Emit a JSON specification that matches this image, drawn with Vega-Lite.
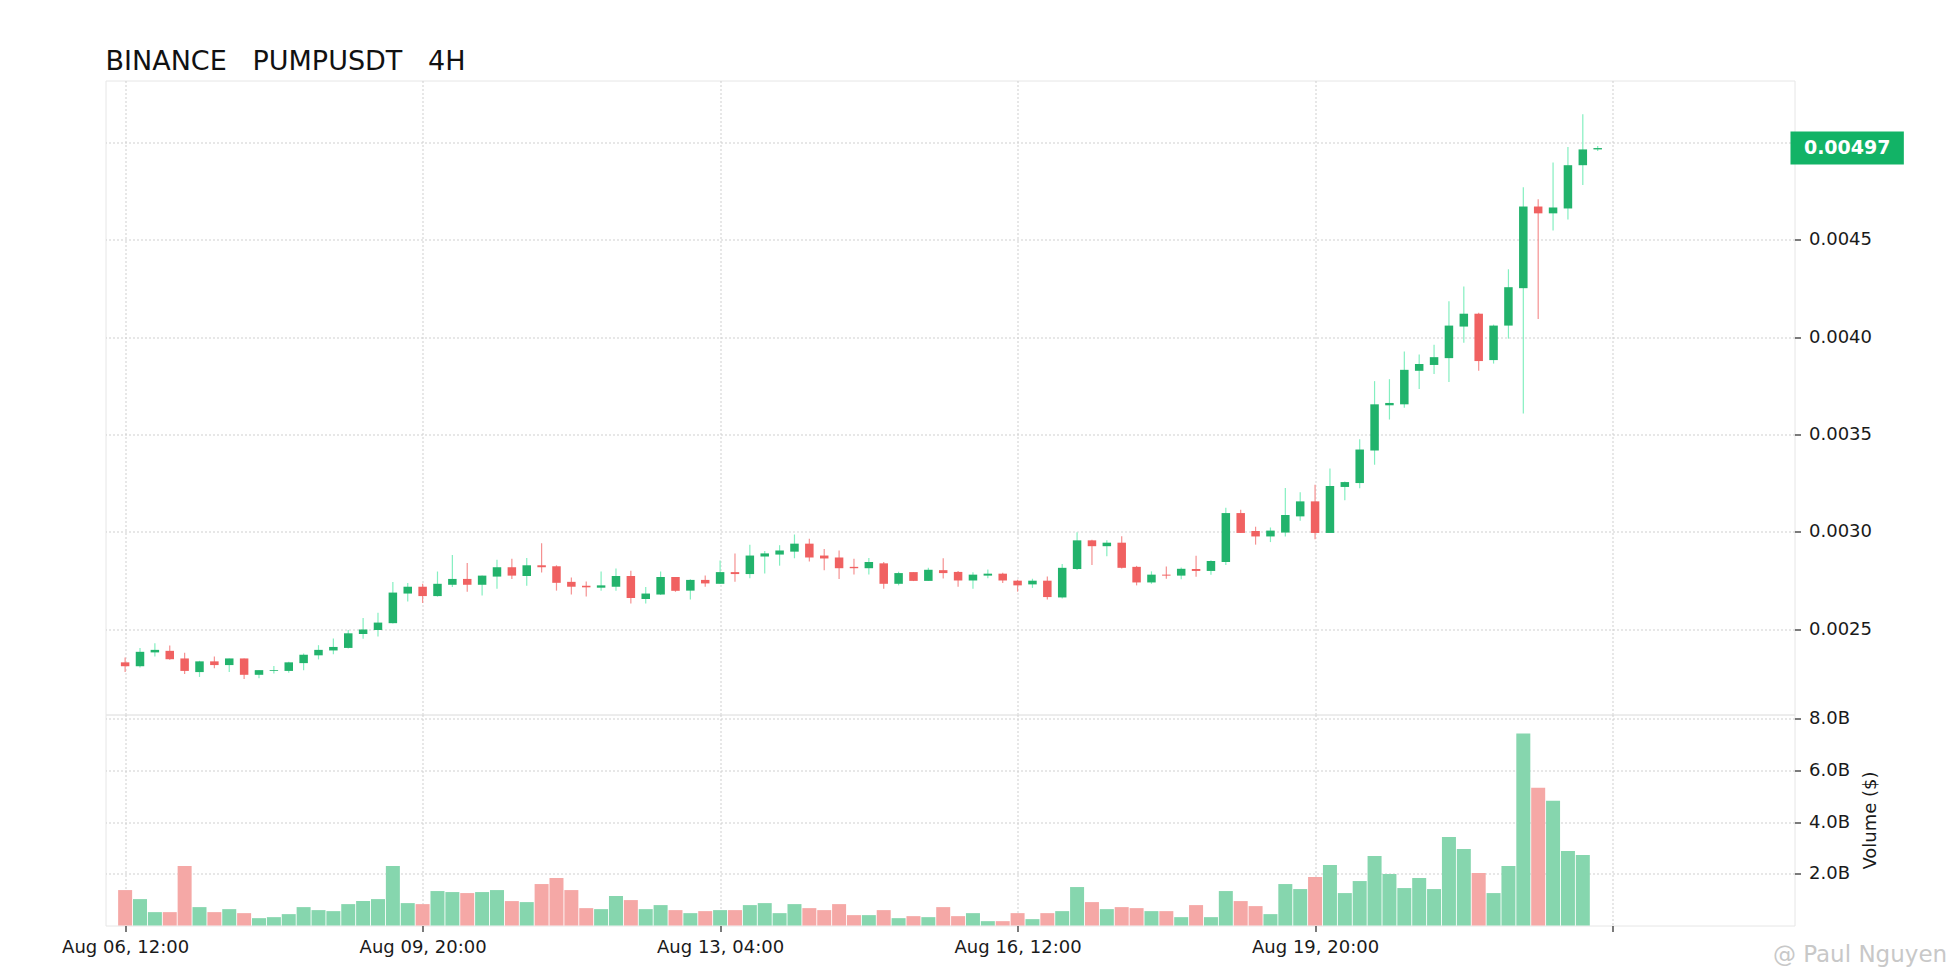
{
"$schema": "https://vega.github.io/schema/vega-lite/v6.json",
"autosize": {"type": "pad"},
"padding": {"left": 60.5, "top": 47.5, "right": 5, "bottom": 5},
"background": "white",
"title": {"text": "BINANCE\u00a0\u00a0\u00a0PUMPUSDT\u00a0\u00a0\u00a04H", "anchor": "start", "frame": "group", "fontSize": 27, "fontWeight": "normal", "color": "#111111", "baseline": "alphabetic", "offset": -16.5},
"datasets": {"ohlc": [
{"t":"2025-08-06T12:00Z","o":0.002331,"h":0.002356,"l":0.002281,"c":0.002311,"v":1.370},
{"t":"2025-08-06T16:00Z","o":0.002311,"h":0.002405,"l":0.002304,"c":0.002385,"v":1.021},
{"t":"2025-08-06T20:00Z","o":0.002382,"h":0.002429,"l":0.002361,"c":0.002395,"v":0.517},
{"t":"2025-08-07T00:00Z","o":0.002390,"h":0.002417,"l":0.002344,"c":0.002347,"v":0.517},
{"t":"2025-08-07T04:00Z","o":0.002351,"h":0.002380,"l":0.002271,"c":0.002287,"v":2.301},
{"t":"2025-08-07T08:00Z","o":0.002281,"h":0.002339,"l":0.002256,"c":0.002336,"v":0.711},
{"t":"2025-08-07T12:00Z","o":0.002336,"h":0.002361,"l":0.002301,"c":0.002317,"v":0.517},
{"t":"2025-08-07T16:00Z","o":0.002317,"h":0.002351,"l":0.002281,"c":0.002351,"v":0.633},
{"t":"2025-08-07T20:00Z","o":0.002351,"h":0.002351,"l":0.002246,"c":0.002267,"v":0.478},
{"t":"2025-08-08T00:00Z","o":0.002267,"h":0.002291,"l":0.002249,"c":0.002291,"v":0.284},
{"t":"2025-08-08T04:00Z","o":0.002287,"h":0.002312,"l":0.002274,"c":0.002291,"v":0.323},
{"t":"2025-08-08T08:00Z","o":0.002287,"h":0.002334,"l":0.002277,"c":0.002331,"v":0.440},
{"t":"2025-08-08T12:00Z","o":0.002327,"h":0.002377,"l":0.002291,"c":0.002370,"v":0.711},
{"t":"2025-08-08T16:00Z","o":0.002367,"h":0.002419,"l":0.002346,"c":0.002395,"v":0.595},
{"t":"2025-08-08T20:00Z","o":0.002392,"h":0.002453,"l":0.002372,"c":0.002410,"v":0.556},
{"t":"2025-08-09T00:00Z","o":0.002405,"h":0.002497,"l":0.002402,"c":0.002480,"v":0.827},
{"t":"2025-08-09T04:00Z","o":0.002477,"h":0.002558,"l":0.002452,"c":0.002500,"v":0.944},
{"t":"2025-08-09T08:00Z","o":0.002497,"h":0.002585,"l":0.002463,"c":0.002535,"v":1.021},
{"t":"2025-08-09T12:00Z","o":0.002532,"h":0.002743,"l":0.002530,"c":0.002689,"v":2.301},
{"t":"2025-08-09T16:00Z","o":0.002684,"h":0.002738,"l":0.002643,"c":0.002719,"v":0.866},
{"t":"2025-08-09T20:00Z","o":0.002719,"h":0.002734,"l":0.002635,"c":0.002671,"v":0.827},
{"t":"2025-08-10T00:00Z","o":0.002671,"h":0.002797,"l":0.002668,"c":0.002734,"v":1.332},
{"t":"2025-08-10T04:00Z","o":0.002729,"h":0.002882,"l":0.002718,"c":0.002759,"v":1.293},
{"t":"2025-08-10T08:00Z","o":0.002759,"h":0.002841,"l":0.002693,"c":0.002729,"v":1.254},
{"t":"2025-08-10T12:00Z","o":0.002729,"h":0.002777,"l":0.002674,"c":0.002776,"v":1.293},
{"t":"2025-08-10T16:00Z","o":0.002771,"h":0.002857,"l":0.002709,"c":0.002819,"v":1.370},
{"t":"2025-08-10T20:00Z","o":0.002819,"h":0.002862,"l":0.002759,"c":0.002776,"v":0.944},
{"t":"2025-08-11T00:00Z","o":0.002774,"h":0.002867,"l":0.002724,"c":0.002829,"v":0.905},
{"t":"2025-08-11T04:00Z","o":0.002829,"h":0.002942,"l":0.002792,"c":0.002819,"v":1.603},
{"t":"2025-08-11T08:00Z","o":0.002824,"h":0.002829,"l":0.002699,"c":0.002739,"v":1.836},
{"t":"2025-08-11T12:00Z","o":0.002744,"h":0.002766,"l":0.002679,"c":0.002719,"v":1.370},
{"t":"2025-08-11T16:00Z","o":0.002724,"h":0.002746,"l":0.002669,"c":0.002716,"v":0.672},
{"t":"2025-08-11T20:00Z","o":0.002714,"h":0.002797,"l":0.002698,"c":0.002726,"v":0.633},
{"t":"2025-08-12T00:00Z","o":0.002719,"h":0.002812,"l":0.002698,"c":0.002774,"v":1.138},
{"t":"2025-08-12T04:00Z","o":0.002774,"h":0.002801,"l":0.002633,"c":0.002661,"v":0.983},
{"t":"2025-08-12T08:00Z","o":0.002656,"h":0.002718,"l":0.002633,"c":0.002684,"v":0.633},
{"t":"2025-08-12T12:00Z","o":0.002679,"h":0.002797,"l":0.002676,"c":0.002769,"v":0.789},
{"t":"2025-08-12T16:00Z","o":0.002769,"h":0.002769,"l":0.002693,"c":0.002698,"v":0.595},
{"t":"2025-08-12T20:00Z","o":0.002699,"h":0.002758,"l":0.002653,"c":0.002754,"v":0.478},
{"t":"2025-08-13T00:00Z","o":0.002754,"h":0.002776,"l":0.002719,"c":0.002736,"v":0.556},
{"t":"2025-08-13T04:00Z","o":0.002734,"h":0.002854,"l":0.002734,"c":0.002794,"v":0.595},
{"t":"2025-08-13T08:00Z","o":0.002794,"h":0.002890,"l":0.002744,"c":0.002784,"v":0.595},
{"t":"2025-08-13T12:00Z","o":0.002784,"h":0.002935,"l":0.002762,"c":0.002879,"v":0.789},
{"t":"2025-08-13T16:00Z","o":0.002874,"h":0.002902,"l":0.002787,"c":0.002890,"v":0.866},
{"t":"2025-08-13T20:00Z","o":0.002884,"h":0.002932,"l":0.002827,"c":0.002905,"v":0.478},
{"t":"2025-08-14T00:00Z","o":0.002899,"h":0.002987,"l":0.002865,"c":0.002940,"v":0.827},
{"t":"2025-08-14T04:00Z","o":0.002940,"h":0.002965,"l":0.002849,"c":0.002869,"v":0.672},
{"t":"2025-08-14T08:00Z","o":0.002879,"h":0.002912,"l":0.002804,"c":0.002864,"v":0.595},
{"t":"2025-08-14T12:00Z","o":0.002869,"h":0.002905,"l":0.002759,"c":0.002814,"v":0.827},
{"t":"2025-08-14T16:00Z","o":0.002821,"h":0.002862,"l":0.002782,"c":0.002814,"v":0.401},
{"t":"2025-08-14T20:00Z","o":0.002814,"h":0.002867,"l":0.002782,"c":0.002846,"v":0.401},
{"t":"2025-08-15T00:00Z","o":0.002839,"h":0.002846,"l":0.002709,"c":0.002734,"v":0.595},
{"t":"2025-08-15T04:00Z","o":0.002734,"h":0.002796,"l":0.002726,"c":0.002789,"v":0.284},
{"t":"2025-08-15T08:00Z","o":0.002794,"h":0.002794,"l":0.002748,"c":0.002749,"v":0.362},
{"t":"2025-08-15T12:00Z","o":0.002749,"h":0.002817,"l":0.002748,"c":0.002806,"v":0.323},
{"t":"2025-08-15T16:00Z","o":0.002804,"h":0.002865,"l":0.002761,"c":0.002789,"v":0.711},
{"t":"2025-08-15T20:00Z","o":0.002795,"h":0.002800,"l":0.002719,"c":0.002751,"v":0.362},
{"t":"2025-08-16T00:00Z","o":0.002751,"h":0.002793,"l":0.002708,"c":0.002781,"v":0.478},
{"t":"2025-08-16T04:00Z","o":0.002776,"h":0.002808,"l":0.002763,"c":0.002786,"v":0.168},
{"t":"2025-08-16T08:00Z","o":0.002786,"h":0.002791,"l":0.002738,"c":0.002751,"v":0.168},
{"t":"2025-08-16T12:00Z","o":0.002750,"h":0.002755,"l":0.002694,"c":0.002726,"v":0.478},
{"t":"2025-08-16T16:00Z","o":0.002731,"h":0.002760,"l":0.002713,"c":0.002750,"v":0.246},
{"t":"2025-08-16T20:00Z","o":0.002750,"h":0.002771,"l":0.002654,"c":0.002666,"v":0.478},
{"t":"2025-08-17T00:00Z","o":0.002664,"h":0.002835,"l":0.002659,"c":0.002816,"v":0.556},
{"t":"2025-08-17T04:00Z","o":0.002810,"h":0.002998,"l":0.002805,"c":0.002957,"v":1.487},
{"t":"2025-08-17T08:00Z","o":0.002957,"h":0.002960,"l":0.002830,"c":0.002927,"v":0.905},
{"t":"2025-08-17T12:00Z","o":0.002927,"h":0.002958,"l":0.002875,"c":0.002945,"v":0.633},
{"t":"2025-08-17T16:00Z","o":0.002945,"h":0.002978,"l":0.002813,"c":0.002816,"v":0.711},
{"t":"2025-08-17T20:00Z","o":0.002821,"h":0.002826,"l":0.002726,"c":0.002741,"v":0.672},
{"t":"2025-08-18T00:00Z","o":0.002741,"h":0.002798,"l":0.002734,"c":0.002781,"v":0.556},
{"t":"2025-08-18T04:00Z","o":0.002781,"h":0.002823,"l":0.002760,"c":0.002776,"v":0.556},
{"t":"2025-08-18T08:00Z","o":0.002776,"h":0.002818,"l":0.002758,"c":0.002811,"v":0.323},
{"t":"2025-08-18T12:00Z","o":0.002810,"h":0.002878,"l":0.002770,"c":0.002800,"v":0.789},
{"t":"2025-08-18T16:00Z","o":0.002800,"h":0.002855,"l":0.002781,"c":0.002851,"v":0.323},
{"t":"2025-08-18T20:00Z","o":0.002846,"h":0.003124,"l":0.002830,"c":0.003097,"v":1.332},
{"t":"2025-08-19T00:00Z","o":0.003097,"h":0.003114,"l":0.002995,"c":0.002995,"v":0.944},
{"t":"2025-08-19T04:00Z","o":0.003005,"h":0.003027,"l":0.002935,"c":0.002977,"v":0.750},
{"t":"2025-08-19T08:00Z","o":0.002977,"h":0.003023,"l":0.002948,"c":0.003007,"v":0.440},
{"t":"2025-08-19T12:00Z","o":0.002997,"h":0.003225,"l":0.002977,"c":0.003087,"v":1.603},
{"t":"2025-08-19T16:00Z","o":0.003080,"h":0.003204,"l":0.003057,"c":0.003157,"v":1.409},
{"t":"2025-08-19T20:00Z","o":0.003157,"h":0.003242,"l":0.002962,"c":0.002995,"v":1.875},
{"t":"2025-08-20T00:00Z","o":0.002995,"h":0.003326,"l":0.002995,"c":0.003236,"v":2.340},
{"t":"2025-08-20T04:00Z","o":0.003231,"h":0.003259,"l":0.003163,"c":0.003256,"v":1.254},
{"t":"2025-08-20T08:00Z","o":0.003251,"h":0.003476,"l":0.003224,"c":0.003423,"v":1.719},
{"t":"2025-08-20T12:00Z","o":0.003418,"h":0.003774,"l":0.003345,"c":0.003655,"v":2.689},
{"t":"2025-08-20T16:00Z","o":0.003650,"h":0.003784,"l":0.003577,"c":0.003662,"v":1.991},
{"t":"2025-08-20T20:00Z","o":0.003655,"h":0.003926,"l":0.003638,"c":0.003832,"v":1.448},
{"t":"2025-08-21T00:00Z","o":0.003827,"h":0.003911,"l":0.003734,"c":0.003862,"v":1.836},
{"t":"2025-08-21T04:00Z","o":0.003857,"h":0.003961,"l":0.003810,"c":0.003897,"v":1.409},
{"t":"2025-08-21T08:00Z","o":0.003892,"h":0.004184,"l":0.003769,"c":0.004059,"v":3.426},
{"t":"2025-08-21T12:00Z","o":0.004054,"h":0.004259,"l":0.003971,"c":0.004120,"v":2.961},
{"t":"2025-08-21T16:00Z","o":0.004120,"h":0.004125,"l":0.003827,"c":0.003877,"v":2.030},
{"t":"2025-08-21T20:00Z","o":0.003882,"h":0.004064,"l":0.003864,"c":0.004059,"v":1.254},
{"t":"2025-08-22T00:00Z","o":0.004059,"h":0.004348,"l":0.003992,"c":0.004256,"v":2.301},
{"t":"2025-08-22T04:00Z","o":0.004251,"h":0.004769,"l":0.003608,"c":0.004670,"v":7.421},
{"t":"2025-08-22T08:00Z","o":0.004670,"h":0.004707,"l":0.004093,"c":0.004635,"v":5.326},
{"t":"2025-08-22T12:00Z","o":0.004635,"h":0.004896,"l":0.004547,"c":0.004665,"v":4.822},
{"t":"2025-08-22T16:00Z","o":0.004660,"h":0.004976,"l":0.004603,"c":0.004882,"v":2.883},
{"t":"2025-08-22T20:00Z","o":0.004882,"h":0.005143,"l":0.004780,"c":0.004963,"v":2.728},
{"t":"2025-08-23T00:00Z","o":0.004963,"h":0.004981,"l":0.004955,"c":0.004970,"v":0}
]},
"spacing": 0,
"bounds": "flush",
"vconcat": [
{
"width": 1689, "height": 634,
"layer": [
{"data": {"name": "ohlc"},
 "mark": {"type": "rule", "strokeWidth": 1.2},
 "encoding": {
  "x": {"field": "t", "type": "temporal", "title": null,
        "scale": {"type": "utc", "domain": [{"year":2025,"month":8,"date":6,"hours":8,"minutes":4,"utc":true},{"year":2025,"month":8,"date":25,"hours":3,"minutes":35,"utc":true}]},
        "axis": {"values": [{"year":2025,"month":8,"date":6,"hours":12,"utc":true},{"year":2025,"month":8,"date":9,"hours":20,"utc":true},{"year":2025,"month":8,"date":13,"hours":4,"utc":true},{"year":2025,"month":8,"date":16,"hours":12,"utc":true},{"year":2025,"month":8,"date":19,"hours":20,"utc":true},{"year":2025,"month":8,"date":23,"hours":4,"utc":true}],
                 "labels": false, "ticks": false, "domain": false, "grid": true}},
  "y": {"field": "l", "type": "quantitative", "title": null,
        "scale": {"domain": [0.002089, 0.005291], "zero": false, "nice": false},
        "axis": {"orient": "right", "values": [0.0025, 0.003, 0.0035, 0.004, 0.0045, 0.005], "labelExpr": "datum.value > 0.00499 ? '' : format(datum.value, '.4f')", "labelOverlap": false}},
  "y2": {"field": "h"},
  "color": {"condition": {"test": "datum.c >= datum.o", "value": "#84efc0"}, "value": "#f59191"}
 }},
{"data": {"name": "ohlc"},
 "mark": {"type": "bar", "size": 8.5},
 "encoding": {
  "x": {"field": "t", "type": "temporal"},
  "y": {"field": "o", "type": "quantitative"},
  "y2": {"field": "c"},
  "color": {"condition": {"test": "datum.c >= datum.o", "value": "#22b36c"}, "value": "#f06161"}
 }},
{"data": {"values": [{"last": 0.00497}]},
 "mark": {"type": "bar", "orient": "horizontal", "size": 33, "color": "#12b366"},
 "encoding": {
  "x": {"datum": {"year":2025,"month":8,"date":25,"hours":3,"minutes":51,"utc":true}, "type": "temporal"},
  "x2": {"datum": {"year":2025,"month":8,"date":26,"hours":10,"minutes":20,"utc":true}},
  "y": {"field": "last", "type": "quantitative"}
 }},
{"data": {"values": [{"last": 0.00497}]},
 "mark": {"type": "text", "color": "#ffffff", "fontWeight": "bold", "fontSize": 19, "align": "center", "baseline": "middle"},
 "encoding": {
  "x": {"datum": {"year":2025,"month":8,"date":25,"hours":19,"minutes":6,"utc":true}, "type": "temporal"},
  "y": {"field": "last", "type": "quantitative"},
  "text": {"field": "last", "type": "quantitative", "format": ".5f"}
 }}
]
},
{
"width": 1689, "height": 211,
"data": {"name": "ohlc"},
"mark": {"type": "bar", "size": 14},
"encoding": {
  "x": {"field": "t", "type": "temporal",
        "scale": {"type": "utc", "domain": [{"year":2025,"month":8,"date":6,"hours":8,"minutes":4,"utc":true},{"year":2025,"month":8,"date":25,"hours":3,"minutes":35,"utc":true}]},
        "axis": {"values": [{"year":2025,"month":8,"date":6,"hours":12,"utc":true},{"year":2025,"month":8,"date":9,"hours":20,"utc":true},{"year":2025,"month":8,"date":13,"hours":4,"utc":true},{"year":2025,"month":8,"date":16,"hours":12,"utc":true},{"year":2025,"month":8,"date":19,"hours":20,"utc":true},{"year":2025,"month":8,"date":23,"hours":4,"utc":true}],
                 "labelExpr": "datum.value > 1755800000000 ? '' : utcFormat(datum.value, '%b %d, %H:%M')",
                 "labelFontSize": 18, "labelFlush": false, "labelOverlap": false, "labelPadding": 7,
                 "ticks": true, "grid": true, "domain": false,
                 "title": "@ Paul Nguyen", "titleX": 1754, "titleY": 29, "titleAlign": "center", "titleBaseline": "middle", "titleAnchor": null, "titleColor": "#c8c8c8", "titleFontSize": 23}},
  "y": {"field": "v", "type": "quantitative", "stack": null,
        "scale": {"domain": [0, 8.16], "nice": false},
        "axis": {"orient": "right", "values": [2, 4, 6, 8], "labelExpr": "format(datum.value, '.1f') + 'B'", "labelOverlap": false,
                 "title": "Volume ($)", "titleAngle": 270, "titleBaseline": "top", "titlePadding": 12}},
  "color": {"condition": {"test": "datum.c >= datum.o", "value": "#86d6ae"}, "value": "#f5a8a6"}
}
}
],
"config": {
  "font": "DejaVu Sans",
  "view": {"stroke": "#e6e6e6", "strokeWidth": 1},
  "axis": {"gridColor": "#cfcfcf", "gridDash": [2, 2], "gridWidth": 1, "tickColor": "#333333", "tickSize": 6, "tickWidth": 1.3,
           "labelColor": "#1a1a1a", "labelFontSize": 18, "labelPadding": 8, "domain": false,
           "titleFontWeight": "normal", "titleColor": "#1a1a1a", "titleFontSize": 18}
}
}
